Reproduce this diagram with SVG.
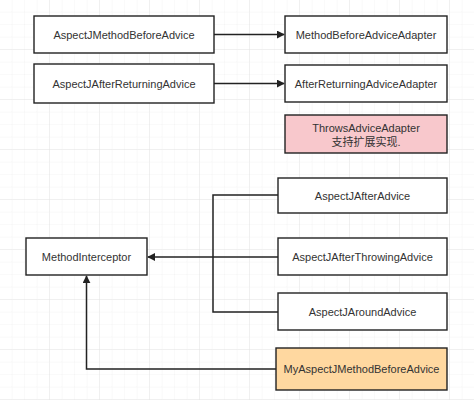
<svg xmlns="http://www.w3.org/2000/svg" width="474" height="400" viewBox="0 0 474 400">
<defs>
<pattern id="minor" width="12.5" height="12.5" patternUnits="userSpaceOnUse">
<path d="M12.5 0V12.5M0 12.5H12.5" fill="none" stroke="#ececec" stroke-width="0.6"/>
</pattern>
<pattern id="major" width="50" height="50" patternUnits="userSpaceOnUse">
<rect width="50" height="50" fill="url(#minor)"/>
<path d="M50 0V50M0 50H50" fill="none" stroke="#e2e2e2" stroke-width="0.8"/>
</pattern>
<marker id="arr" viewBox="0 0 10 10" refX="9" refY="5" markerWidth="8" markerHeight="8" orient="auto" markerUnits="userSpaceOnUse">
<path d="M0 0L10 5L0 10Z" fill="#222"/>
</marker>
<style>
.box{fill:#fff;stroke:#222;stroke-width:1.4}
.pink{fill:#f8c8cc}
.orange{fill:#ffd8a0}
.t{font-family:"Liberation Sans","Noto Sans CJK SC",Arial,sans-serif;font-size:11px;fill:#333;text-anchor:middle;dominant-baseline:central}
.c{fill:none;stroke:#222;stroke-width:1.5}
</style>
</defs>
<rect width="474" height="400" fill="#fff"/>
<rect width="474" height="400" fill="url(#major)"/>
<g id="connectors">
<path class="c" d="M214 34.5H284" marker-end="url(#arr)"/>
<path class="c" d="M214 83.5H284" marker-end="url(#arr)"/>
<path class="c" d="M278 195H213V312H278"/>
<path class="c" d="M278 257H148" marker-end="url(#arr)"/>
<path class="c" d="M276 369H86.5V276" marker-end="url(#arr)"/>
</g>
<g id="n1"><rect class="box" x="34" y="16" width="180" height="37"/><text class="t" x="124" y="34.5">AspectJMethodBeforeAdvice</text></g>
<g id="n2"><rect class="box" x="285" y="16" width="162" height="37"/><text class="t" x="366" y="34.5">MethodBeforeAdviceAdapter</text></g>
<g id="n3"><rect class="box" x="34" y="64" width="180" height="39"/><text class="t" x="124" y="83.5">AspectJAfterReturningAdvice</text></g>
<g id="n4"><rect class="box" x="285" y="65" width="162" height="37"/><text class="t" x="366" y="83.5">AfterReturningAdviceAdapter</text></g>
<g id="n5"><rect class="box pink" x="285" y="115" width="162" height="38"/><text class="t" x="366" y="127.5">ThrowsAdviceAdapter</text><text class="t" x="366" y="141.5">支持扩展实现.</text></g>
<g id="n6"><rect class="box" x="278" y="178" width="169" height="35"/><text class="t" x="362.5" y="195.5">AspectJAfterAdvice</text></g>
<g id="n7"><rect class="box" x="26" y="238" width="121" height="37"/><text class="t" x="86.5" y="256.5">MethodInterceptor</text></g>
<g id="n8"><rect class="box" x="278" y="238" width="169" height="37"/><text class="t" x="362.5" y="256.5">AspectJAfterThrowingAdvice</text></g>
<g id="n9"><rect class="box" x="278" y="293" width="169" height="37"/><text class="t" x="362.5" y="311.5">AspectJAroundAdvice</text></g>
<g id="n10"><rect class="box orange" x="276" y="348" width="171" height="42"/><text class="t" x="361.5" y="369">MyAspectJMethodBeforeAdvice</text></g>
</svg>
